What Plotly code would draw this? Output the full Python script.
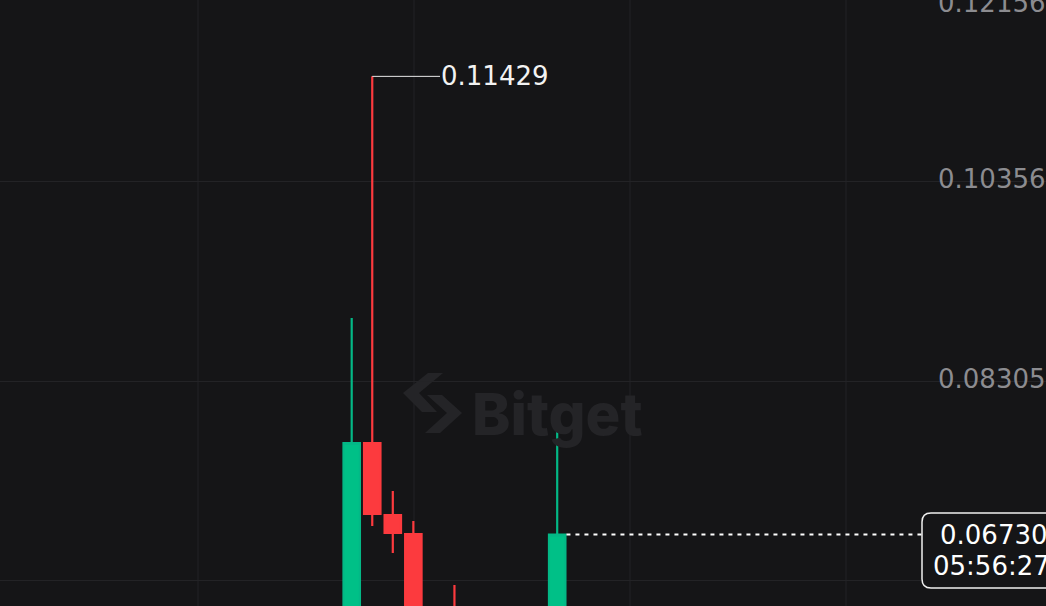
import plotly.graph_objects as go

# ---- data ----
candle_idx = [0, 1, 2, 3, 5, 10]
opens  = [0.0580, 0.07669, 0.06931, 0.06736, 0.0595, 0.0585]
highs  = [0.08951, 0.11429, 0.07177, 0.06869, 0.06213, 0.07844]
lows   = [0.0570, 0.06818, 0.06541, 0.0575, 0.0570, 0.0575]
closes = [0.07669, 0.06941, 0.06746, 0.0585, 0.0580, 0.06730]

axis_ticks = [0.12156, 0.10356, 0.08305, 0.06255]
grid_ticks = [0.10356, 0.08305, 0.06255]
high_label = 0.11429
last_price = 0.06730
countdown = "05:56:27"

# ---- geometry helpers (layout only) ----
W, H = 1046, 606
X0_PX, DX_PX = 351.7, 20.55           # pixel of candle 0, pixels per candle
Y_REF_PX, Y_REF_V, Y_STEP = 181.0, 0.10356, 0.02051 / 200.0

def xpx(px):
    return (px - X0_PX) / DX_PX

def ypx_val(py):
    return Y_REF_V - (py - Y_REF_PX) * Y_STEP

def px(p):
    return p / W

def py(p):
    return 1 - p / H

BG = "#151517"
GRID = "#232326"
GREEN = "#00c087"
RED = "#fc3a3e"
LABEL = "#8c8c90"
FONT = "DejaVu Sans"
FS = 26

fig = go.Figure()

fig.add_trace(go.Candlestick(
    x=candle_idx, open=opens, high=highs, low=lows, close=closes,
    increasing=dict(line=dict(color="#03b886", width=2.2), fillcolor=GREEN),
    decreasing=dict(line=dict(color=RED, width=2.2), fillcolor=RED),
    whiskerwidth=0, hoverinfo="skip", showlegend=False,
))

# right-side price labels (drawn in trace layer so the price box can cover them)
fig.add_trace(go.Scatter(
    x=[xpx(938)] * len(axis_ticks), y=axis_ticks,
    text=[f"{v:.5f}" for v in axis_ticks],
    mode="text", textposition="middle right",
    textfont=dict(family=FONT, size=FS, color=LABEL),
    hoverinfo="skip", showlegend=False,
))

shapes = []
# vertical grid lines
for gx in [198, 414, 630, 846]:
    shapes.append(dict(type="line", xref="x", yref="paper",
                       x0=xpx(gx), x1=xpx(gx), y0=0, y1=1,
                       line=dict(color=GRID, width=1), layer="below"))

# watermark logo (two chevrons)
def poly(pts):
    return "M " + " L ".join(f"{px(a)},{py(b)}" for a, b in pts) + " Z"

logo_col = "#242427"
shapes.append(dict(type="path", xref="paper", yref="paper",
                   path=poly([(428, 373), (443, 373), (419, 393), (437, 412), (422, 412), (403, 393)]),
                   fillcolor=logo_col, line=dict(width=0), layer="below"))
shapes.append(dict(type="path", xref="paper", yref="paper",
                   path=poly([(427, 395), (442, 395), (462, 413), (440, 433), (425, 433), (447, 413)]),
                   fillcolor=logo_col, line=dict(width=0), layer="below"))

# high marker connector
shapes.append(dict(type="line", xref="x", yref="y",
                   x0=candle_idx[1], x1=xpx(440), y0=high_label, y1=high_label,
                   line=dict(color="#e8e8e8", width=1)))

# last price dashed line
shapes.append(dict(type="line", xref="x", yref="y",
                   x0=candle_idx[-1] + 0.45, x1=xpx(922), y0=last_price, y1=last_price,
                   line=dict(color="#ffffff", width=2, dash="4px,5px")))

# price box with rounded corners
bx0, bx1, by0, by1, r = 922, 1070, 513, 588, 9
path = (f"M {px(bx0 + r)},{py(by0)} L {px(bx1)},{py(by0)} L {px(bx1)},{py(by1)} "
        f"L {px(bx0 + r)},{py(by1)} Q {px(bx0)},{py(by1)} {px(bx0)},{py(by1 - r)} "
        f"L {px(bx0)},{py(by0 + r)} Q {px(bx0)},{py(by0)} {px(bx0 + r)},{py(by0)} Z")
shapes.append(dict(type="path", xref="paper", yref="paper", path=path,
                   fillcolor=BG, line=dict(color="#f0f0f0", width=1.5), layer="above"))

annotations = [
    dict(text="Bitget", xref="paper", yref="paper", x=px(557), y=py(414),
         xanchor="center", yanchor="middle", showarrow=False,
         font=dict(family="Inter", size=58, color=logo_col, weight=800)),
    dict(text=f"{high_label:.5f}", xref="x", yref="y", x=xpx(439), y=high_label,
         xanchor="left", yanchor="middle", showarrow=False,
         font=dict(family=FONT, size=FS, color="#f2f2f2")),
    dict(text=f"{last_price:.5f}", xref="paper", yref="paper", x=px(938), y=py(535),
         xanchor="left", yanchor="middle", showarrow=False,
         font=dict(family=FONT, size=FS, color="#ffffff")),
    dict(text=countdown, xref="paper", yref="paper", x=px(931), y=py(566),
         xanchor="left", yanchor="middle", showarrow=False,
         font=dict(family=FONT, size=FS, color="#ffffff")),
]

fig.update_layout(
    width=W, height=H,
    margin=dict(l=0, r=0, t=0, b=0),
    paper_bgcolor=BG, plot_bgcolor=BG,
    boxgap=0.2, boxgroupgap=0,
    shapes=shapes, annotations=annotations,
    showlegend=False,
    xaxis=dict(range=[xpx(0), xpx(W)], showgrid=False, zeroline=False,
               showticklabels=False, rangeslider=dict(visible=False), fixedrange=True),
    yaxis=dict(range=[ypx_val(H), ypx_val(0)], tickvals=grid_ticks, showticklabels=False,
               gridcolor=GRID, gridwidth=1, zeroline=False, fixedrange=True),
)

fig.write_html(
    "out.html",
    config={"displayModeBar": False},
    post_script="document.body.style.margin='0';document.body.style.overflow='hidden';"
                "document.body.style.background='#151517';",
)
